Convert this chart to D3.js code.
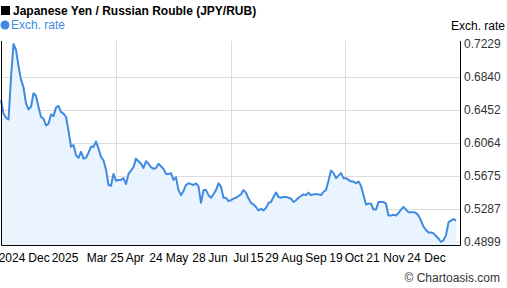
<!DOCTYPE html>
<html>
<head>
<meta charset="utf-8">
<script src="https://cdn.jsdelivr.net/npm/d3@7"></script>
<style>
  body { margin: 0; background: #fff; }
  svg { display: block; font-family: "Liberation Sans", Arial, sans-serif; }
</style>
</head>
<body>
<div id="chart-area"></div>
<script>
// JPY/RUB, roughly one value every two days, Dec 2024 -> Dec 2025
var rates = [
  0.657, 0.641, 0.636, 0.634, 0.683, 0.7229, 0.716, 0.697, 0.681, 0.672,
  0.653, 0.646, 0.649, 0.665, 0.662, 0.649, 0.637, 0.635, 0.627, 0.629,
  0.640, 0.638, 0.648, 0.650, 0.643, 0.641, 0.637, 0.621, 0.602, 0.604,
  0.592, 0.589, 0.596, 0.588, 0.589, 0.595, 0.602, 0.602, 0.608, 0.600,
  0.590, 0.586, 0.575, 0.557, 0.556, 0.570, 0.562, 0.563, 0.563, 0.565,
  0.558, 0.570, 0.574, 0.578, 0.588, 0.585, 0.582, 0.577, 0.585, 0.582,
  0.578, 0.576, 0.577, 0.582, 0.579, 0.576, 0.570, 0.570, 0.571, 0.563,
  0.566, 0.551, 0.545, 0.550, 0.557, 0.559, 0.558, 0.557, 0.559, 0.555,
  0.536, 0.551, 0.551, 0.545, 0.542, 0.546, 0.551, 0.559, 0.555, 0.542,
  0.542, 0.538, 0.539, 0.541, 0.542, 0.544, 0.546, 0.551, 0.548, 0.541,
  0.536, 0.534, 0.531, 0.527, 0.529, 0.527, 0.530, 0.536, 0.537, 0.543,
  0.548, 0.543, 0.542, 0.543, 0.543, 0.542, 0.541, 0.537, 0.539, 0.542,
  0.544, 0.546, 0.545, 0.548, 0.545, 0.546, 0.546, 0.546, 0.545, 0.549,
  0.551, 0.562, 0.574, 0.571, 0.565, 0.568, 0.571, 0.565, 0.565, 0.563,
  0.561, 0.561, 0.559, 0.561, 0.556, 0.545, 0.534, 0.535, 0.535, 0.528,
  0.528, 0.537, 0.537, 0.537, 0.535, 0.521, 0.521, 0.522, 0.521, 0.524,
  0.528, 0.531, 0.528, 0.525, 0.525, 0.525, 0.524, 0.521, 0.515, 0.508,
  0.504, 0.501, 0.501, 0.500, 0.497, 0.494, 0.4899, 0.492, 0.498, 0.513,
  0.515, 0.517, 0.515
];

// y tick labels (min to max in six equal steps)
var yTicks = [0.4899, 0.5287, 0.5675, 0.6064, 0.6452, 0.6840, 0.7229];

// x axis words, placed at the position (in data points) where they sit
var xWords = ["2024", "Dec", "2025", "Mar", "25", "Apr", "24", "May", "28", "Jun",
  "Jul", "15", "29", "Aug", "Sep", "19", "Oct", "21", "Nov", "24", "Dec"];
var xWordPos = [4.4, 15.2, 25.6, 38.4, 46.4, 53.6, 62, 70.4, 79.2, 86.8,
  96, 102.4, 108.4, 116.4, 126, 134, 141.2, 148.8, 157.2, 165.2, 173.6];

var title = "Japanese Yen / Russian Rouble (JPY/RUB)";
var seriesName = "Exch. rate";

var width = 507, height = 288;
var plot = { left: 1, right: 460, top: 41, bottom: 245 };

var svg = d3.select("#chart-area").append("svg")
    .attr("width", width)
    .attr("height", height);

var x = d3.scaleLinear()
    .domain([0, rates.length - 1])
    .range([plot.left, 456]);

var step = (0.7229 - 0.4899) / 6;
var y = d3.scaleLinear()
    .domain([0.4899, 0.7229])
    .range([242, 44]);

// gridlines
var grid = svg.append("g");
grid.selectAll("line.h")
    .data(yTicks.slice(0, 6))
    .enter().append("line")
    .attr("x1", plot.left).attr("x2", plot.right)
    .attr("y1", function(d) { return Math.round(y(d)) + 0.5; })
    .attr("y2", function(d) { return Math.round(y(d)) + 0.5; })
    .attr("stroke", "#dcdcdc");
grid.selectAll("line.v")
    .data([1, 2, 3])
    .enter().append("line")
    .attr("x1", function(d) { return Math.round(plot.left + (plot.right - plot.left) * d / 4) + 0.5; })
    .attr("x2", function(d) { return Math.round(plot.left + (plot.right - plot.left) * d / 4) + 0.5; })
    .attr("y1", plot.top).attr("y2", plot.bottom)
    .attr("stroke", "#dcdcdc");

// area + line
var area = d3.area()
    .x(function(d, i) { return x(i); })
    .y0(plot.bottom)
    .y1(function(d) { return y(d); });
svg.append("path")
    .datum(rates)
    .attr("d", area)
    .attr("fill", "#eaf4fe");

var line = d3.line()
    .x(function(d, i) { return x(i); })
    .y(function(d) { return y(d); });
svg.append("path")
    .datum(rates)
    .attr("d", line)
    .attr("fill", "none")
    .attr("stroke", "#3f8ae0")
    .attr("stroke-width", 2)
    .attr("stroke-linejoin", "round");

// frame: left, right, bottom
svg.append("path")
    .attr("d", "M" + (plot.left + 0.5) + "," + plot.top + "V" + (plot.bottom + 0.5) +
               "H" + (plot.right + 0.5) + "V" + plot.top)
    .attr("fill", "none")
    .attr("stroke", "#000");

// y labels
svg.selectAll("text.ytick")
    .data(yTicks)
    .enter().append("text")
    .attr("x", 464)
    .attr("y", function(d) { return y(d) + 4; })
    .attr("font-size", 12)
    .attr("fill", "#333")
    .text(function(d) { return d.toFixed(4); });

svg.append("text")
    .attr("x", 505).attr("y", 30)
    .attr("text-anchor", "end")
    .attr("font-size", 12)
    .attr("fill", "#000")
    .text(seriesName);

// x labels
svg.selectAll("text.xtick")
    .data(xWords)
    .enter().append("text")
    .attr("x", function(d, i) { return x(xWordPos[i]); })
    .attr("y", 262)
    .attr("text-anchor", "middle")
    .attr("font-size", 12)
    .attr("fill", "#000")
    .text(function(d) { return d; });

// title + legend
svg.append("rect")
    .attr("x", 1).attr("y", 6).attr("width", 9).attr("height", 9)
    .attr("fill", "#000");
svg.append("text")
    .attr("x", 13).attr("y", 15)
    .attr("font-size", 12).attr("font-weight", "bold")
    .text(title);
svg.append("circle")
    .attr("cx", 5).attr("cy", 25).attr("r", 4.5)
    .attr("fill", "#3f8ae0");
svg.append("text")
    .attr("x", 11).attr("y", 29)
    .attr("font-size", 12)
    .attr("fill", "#3f8ae0")
    .text(seriesName);

svg.append("text")
    .attr("x", 500).attr("y", 282)
    .attr("text-anchor", "end")
    .attr("font-size", 12)
    .attr("fill", "#333")
    .text("\u00a9 Chartoasis.com");
</script>
</body>
</html>
